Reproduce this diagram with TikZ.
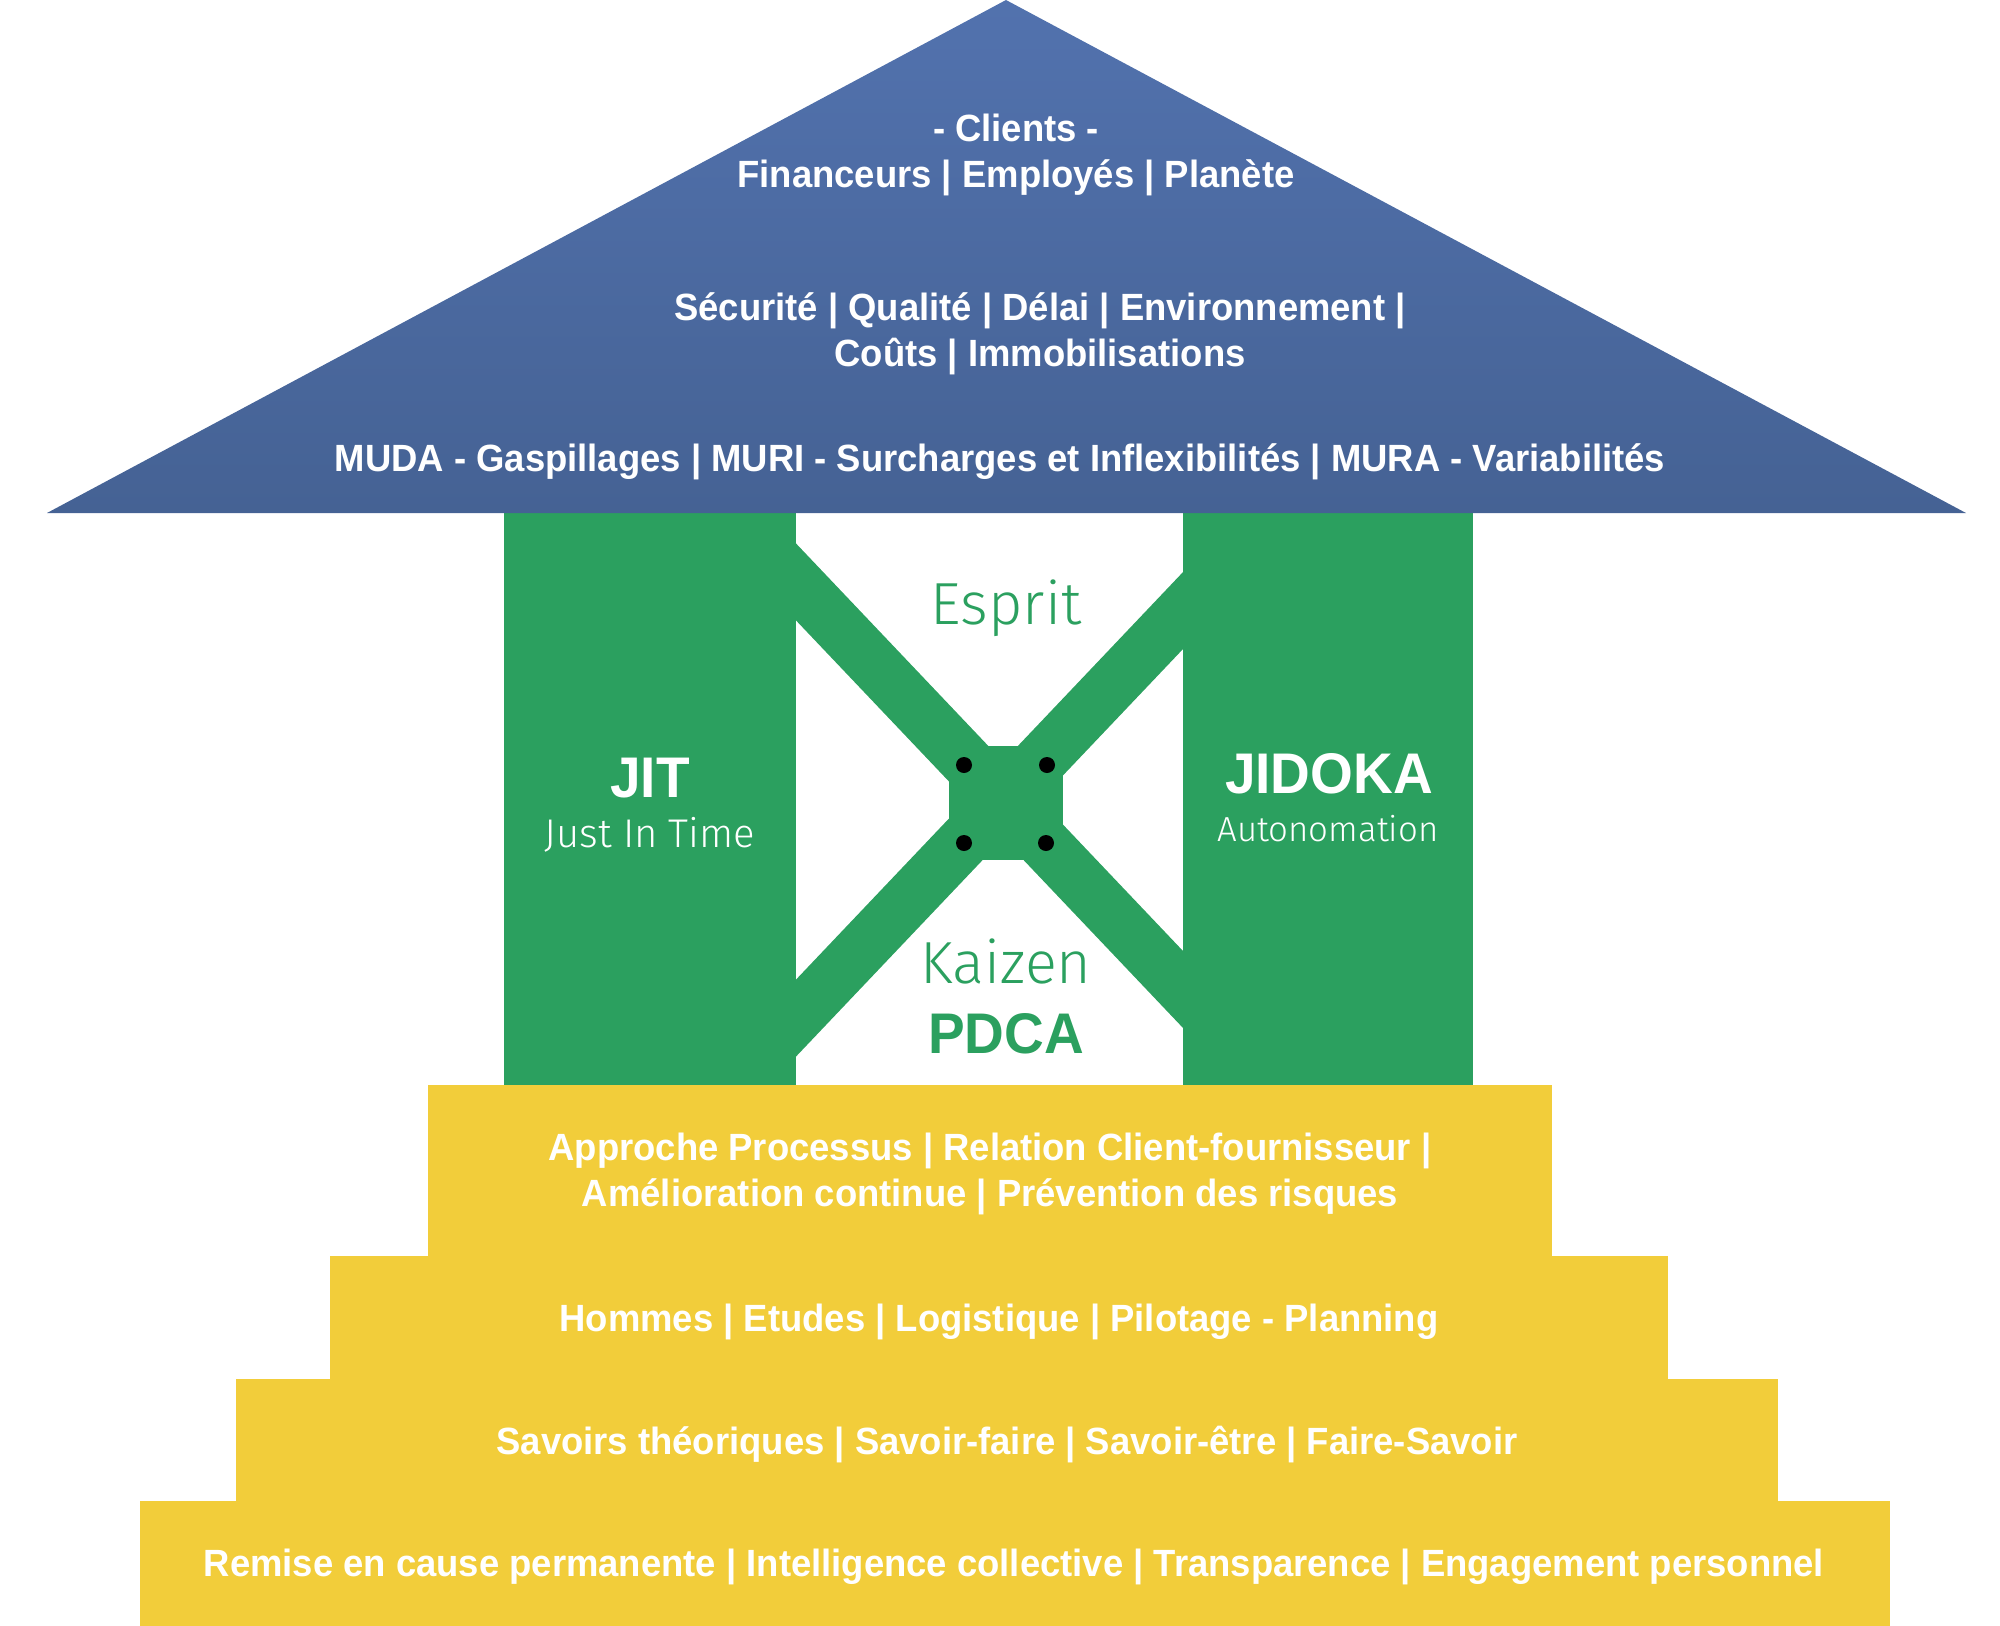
\documentclass[tikz,border=0pt]{standalone}
\usepackage{fontspec}
\setmainfont{Liberation Sans}[FakeStretch=0.96]
\newfontfamily\lightfont{Fira Sans Light}
\usetikzlibrary{positioning}
\definecolor{RoofTop}{HTML}{5272AE}
\definecolor{RoofBottom}{HTML}{456294}
\definecolor{Pillar}{HTML}{2BA05F}
\definecolor{Base}{HTML}{F2CD3A}
\tikzset{
  basetxt/.style={text=white, inner sep=0pt, anchor=base,
    font=\fontsize{10.8}{12}\selectfont\bfseries},
  bigtxt/.style={text=#1, inner sep=0pt, anchor=base,
    font=\fontsize{16.3}{18}\selectfont\bfseries},
  bigtxt/.default={white},
  thintxt/.style={text=white, inner sep=0pt, anchor=base,
    font=\fontsize{#1}{12}\selectfont\lightfont},
  thintxt/.default={10.8},
  hugethin/.style={text=Pillar, inner sep=0pt, anchor=base,
    font=\fontsize{16.9}{18}\selectfont\lightfont},
  stepbox/.style={fill=Base, draw=none},
}

\begin{document}
\begin{tikzpicture}[x=0.1mm, y=-0.1mm]
  \useasboundingbox (0,0) rectangle (2000,1626);

  % cross between the pillars
  \draw[Pillar, line width=5.3mm] (760,544) -- (1250,1060);
  \draw[Pillar, line width=5.3mm] (760,1056) -- (1250,540);
  \fill[Pillar] (949,746) rectangle (1063,860);
  \foreach \px/\py in {964/765, 1047/765, 964/843, 1046/843}
    \fill[black] (\px,\py) circle (8);

  % pillars
  \fill[Pillar] (504,500) rectangle (796,1090);
  \fill[Pillar] (1183,500) rectangle (1473,1090);

  % roof
  \shade[top color=RoofTop, middle color=RoofTop, bottom color=RoofBottom]
    (1006,0) -- (1966,513) -- (47,513) -- cycle;

  % base steps
  \fill[stepbox] (428,1085) rectangle (1552,1258);
  \fill[stepbox] (330,1256) rectangle (1668,1381);
  \fill[stepbox] (236,1379) rectangle (1778,1503);
  \fill[stepbox] (140,1501) rectangle (1890,1626);

  % roof texts
  \node[basetxt] (clients) at (1016,141) {- Clients -};
  \node[basetxt] (parties) at (1016,187) {Financeurs | Employés | Planète};
  \node[basetxt] (sqde) at (1040,320) {Sécurité | Qualité | Délai | Environnement |};
  \node[basetxt] (couts) at (1040,366) {Coûts | Immobilisations};
  \node[basetxt] (muda) at (1000,471)
    {MUDA - Gaspillages | MURI - Surcharges et Inflexibilités | MURA - Variabilités};

  % pillar texts
  \node[bigtxt] (jit) at (650,797) {JIT};
  \node[thintxt=11.4] (jitsub) at (650,847) {Just In Time};
  \node[bigtxt] (jidoka) at (1329,793) {JIDOKA};
  \node[thintxt=9.9] (jidokasub) at (1328,841) {Autonomation};
  \node[hugethin] (esprit) at (1006,624) {Esprit};
  \node[hugethin] (kaizen) at (1006,983) {Kaizen};
  \node[bigtxt=Pillar] (pdca) at (1006,1053) {PDCA};

  % base texts
  \node[basetxt] (approche) at (990,1160)
    {Approche Processus | Relation Client-fournisseur |};
  \node[basetxt] (amelio) at (990,1206)
    {Amélioration continue | Prévention des risques};
  \node[basetxt] (hommes) at (999,1331)
    {Hommes | Etudes | Logistique | Pilotage - Planning};
  \node[basetxt] (savoirs) at (1007,1454)
    {Savoirs théoriques | Savoir-faire | Savoir-être | Faire-Savoir};
  \node[basetxt] (remise) at (1014,1576)
    {Remise en cause permanente | Intelligence collective | Transparence | Engagement personnel};
\end{tikzpicture}
\end{document}
